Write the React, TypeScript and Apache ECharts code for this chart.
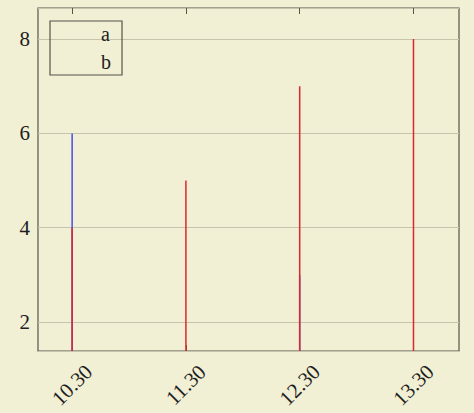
import { useEffect, useRef } from 'react';
import * as echarts from 'echarts';

// ─── Data ─────────────────────────────────────────────────────────────────────

const categories = ['10.30', '11.30', '12.30', '13.30'];
const xPositions = [10.3, 11.3, 12.3, 13.3];
const seriesA: (number | null)[] = [6, null, 3, null];
const seriesB: (number | null)[] = [4, 5, 7, 8];
const yTicks = [2, 4, 6, 8];

const BG = '#f1efd4';
const FRAME = '#55554a';
const GRID = '#c6c4ac';
const TEXT = '#1e1e1e';
const FONT = '"Liberation Serif", "DejaVu Serif", serif';

function toPoints(values: (number | null)[]) {
  return xPositions
    .map((x, i) => [x, values[i]])
    .filter((p) => p[1] !== null) as [number, number][];
}

function labelFor(v: number) {
  const i = xPositions.findIndex((x) => Math.abs(x - v) < 1e-6);
  return i >= 0 ? categories[i] : '';
}

function buildOption(): echarts.EChartsOption {
  return {
    animation: false,
    backgroundColor: BG,
    textStyle: { fontFamily: FONT },
    grid: {
      left: 38,
      right: 15,
      top: 8,
      bottom: 62,
      show: true,
      borderColor: FRAME,
      borderWidth: 1.2,
      backgroundColor: 'transparent',
    },
    legend: {
      data: ['a', 'b'],
      orient: 'vertical',
      left: 50,
      top: 21,
      padding: [3, 11, 3, 10],
      borderColor: FRAME,
      borderWidth: 1.2,
      icon: 'rect',
      itemWidth: 36,
      itemHeight: 20,
      itemGap: 8,
      itemStyle: { opacity: 0 },
      selectedMode: false,
      textStyle: { fontFamily: FONT, fontSize: 20, color: TEXT },
    },
    xAxis: [
      {
        type: 'value',
        min: 10,
        max: 13.7,
        axisLine: { show: false },
        splitLine: { show: false },
        axisTick: {
          show: true,
          inside: true,
          length: 6,
          customValues: xPositions,
          lineStyle: { color: FRAME },
        },
        axisLabel: {
          customValues: xPositions,
          rotate: 45,
          align: 'center',
          verticalAlign: 'middle',
          margin: 34,
          fontFamily: FONT,
          fontSize: 21,
          color: TEXT,
          formatter: (v: number) => labelFor(v),
        },
      },
      {
        type: 'value',
        position: 'top',
        min: 10,
        max: 13.7,
        axisLine: { show: false },
        splitLine: { show: false },
        axisLabel: { show: false },
        axisTick: {
          show: true,
          inside: true,
          length: 6,
          customValues: xPositions,
          lineStyle: { color: FRAME },
        },
      },
    ],
    yAxis: {
      type: 'value',
      min: 1.385,
      max: 8.66,
      splitNumber: 4,
      axisLine: { show: false },
      axisTick: { show: false },
      splitLine: { show: true, lineStyle: { color: GRID, width: 1 } },
      axisLabel: {
        showMinLabel: false,
        showMaxLabel: false,
        margin: 8,
        fontFamily: FONT,
        fontSize: 21,
        color: TEXT,
        formatter: (v: number) => (yTicks.includes(v) ? String(v) : ''),
      },
    },
    series: [
      {
        name: 'a',
        type: 'bar',
        data: toPoints(seriesA),
        barWidth: 1.5,
        barGap: '-100%',
        itemStyle: { color: '#4b4bea' },
      },
      {
        name: 'b',
        type: 'bar',
        data: toPoints(seriesB),
        barWidth: 1.5,
        barGap: '-100%',
        itemStyle: { color: '#d82a2e' },
      },
    ],
  };
}

export default function App() {
  const containerRef = useRef<HTMLDivElement>(null);

  useEffect(() => {
    if (!containerRef.current) return;
    const chart = echarts.init(containerRef.current, null, { renderer: 'svg' });
    chart.setOption(buildOption());
    return () => chart.dispose();
  }, []);

  return (
    <div
      ref={containerRef}
      style={{ position: 'fixed', left: 0, top: 0, width: 474, height: 413 }}
    />
  );
}
